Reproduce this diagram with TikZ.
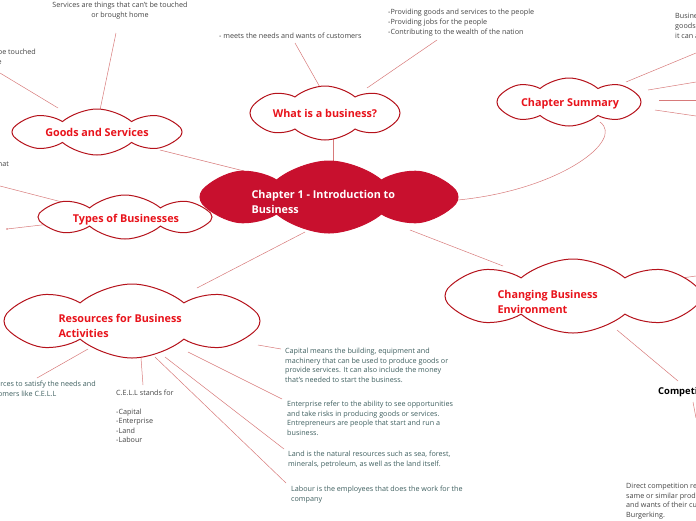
\documentclass[tikz,border=0pt]{standalone}
\usepackage{fontspec}
\setmainfont{Open Sans}
\usetikzlibrary{shapes.symbols}
\definecolor{crim}{HTML}{C8102E}
\definecolor{edge}{HTML}{B5121B}
\definecolor{ttl}{HTML}{E8131B}
\definecolor{lnk}{HTML}{D77A7A}
\definecolor{gtx}{HTML}{444444}
\definecolor{teal}{HTML}{3E5F5F}
\tikzset{
 cl/.style={cloud, cloud puffs=8, cloud puff arc=80, cloud ignores aspect, draw=edge, line width=1pt, fill=white, inner sep=0pt},
 ttlt/.style={font=\fontsize{10.8}{12}\selectfont\bfseries, text=ttl, align=left},
 lk/.style={draw=lnk, line width=0.5pt},
 tx/.style={font=\fontsize{7.2}{10}\selectfont, text=gtx, align=left, inner sep=0pt},
 tt/.style={tx, text=teal},
}
\begin{document}
\begin{tikzpicture}[x=1pt,y=-1pt]
\useasboundingbox (0,0) rectangle (696,520);
\clip (0,0) rectangle (696,520);
% links
\coordinate (cwhat) at (333,163);
\coordinate (wbot) at (333,135);
\draw[lk] (cwhat) -- (wbot);
\coordinate (cg1) at (252,173); \coordinate (g1) at (160,150); \draw[lk] (cg1) -- (g1);
\coordinate (ct1) at (225,207); \coordinate (t1) at (205,210); \draw[lk] (ct1) -- (t1);
\coordinate (cs1) at (458,200); \coordinate (s1) at (600,122);
\draw[lk] (cs1) .. controls (560,190) and (625,140) .. (s1);
\coordinate (cr1) at (305,232); \coordinate (r1) at (197,288); \draw[lk] (cr1) -- (r1);
\coordinate (cc1) at (410,230); \coordinate (c1) at (503,266); \draw[lk] (cc1) -- (c1);
% what is
\coordinate (w1) at (321,89); \coordinate (w1e) at (295,43); \draw[lk] (w1) -- (w1e);
\coordinate (w2) at (367,88); \coordinate (w2e) at (437,40); \draw[lk] (w2) -- (w2e);
% goods
\coordinate (ga) at (100,110); \coordinate (gae) at (116,33); \draw[lk] (ga) -- (gae);
\coordinate (gb) at (58,108); \coordinate (gbe) at (0,73); \draw[lk] (gb) -- (gbe);
% types
\coordinate (ta) at (62,202); \coordinate (tae) at (0,186); \draw[lk] (ta) -- (tae);
\coordinate (tb) at (50,224); \coordinate (tbe) at (7,229); \draw[lk] (tb) -- (tbe);
\fill[lnk] (tbe) circle (0.8);
% summary
\coordinate (sa) at (626,82); \coordinate (sae) at (696,53); \draw[lk] (sa) -- (sae);
\coordinate (sb) at (648,90); \coordinate (sbe) at (696,82); \draw[lk] (sb) -- (sbe);
\coordinate (sc) at (659,100); \coordinate (sce) at (696,100); \draw[lk] (sc) -- (sce);
\coordinate (sd) at (655,110); \coordinate (sde) at (696,116); \draw[lk] (sd) -- (sde);
% resources
\coordinate (ra) at (88,349); \coordinate (rae) at (37,378); \draw[lk] (ra) -- (rae);
\coordinate (rb) at (141,358); \coordinate (rbe) at (143,385); \draw[lk] (rb) -- (rbe);
\coordinate (rc) at (258,345); \coordinate (rce) at (281,349); \draw[lk] (rc) -- (rce);
\coordinate (rd) at (188,352); \coordinate (rde) at (282,399); \draw[lk] (rd) -- (rde);
\coordinate (re) at (165,357); \coordinate (ree) at (284,449); \draw[lk] (re) -- (ree);
\coordinate (rf) at (155,357); \coordinate (rfe) at (286,483); \draw[lk] (rf) -- (rfe);
% changing
\coordinate (ca) at (617,330); \coordinate (cae) at (678,381); \draw[lk] (ca) -- (cae);
\coordinate (cb) at (660,281); \coordinate (cbe) at (696,276); \draw[lk] (cb) -- (cbe);
\coordinate (cc) at (693,402); \coordinate (cce) at (696,418); \draw[lk] (cc) -- (cce);
% clouds
\node[cl, fill=crim, draw=crim, minimum width=258, minimum height=72] (core) at (329,197) {};
\node[font=\fontsize{10.8}{15}\selectfont\bfseries, text=white, align=left, anchor=west] (coret) at (248,202) {Chapter 1 - Introduction to\\Business};
\node[cl, minimum width=150, minimum height=54] (what) at (325,113) {};
\node[ttlt] at (what) {What is a business?};
\node[cl, minimum width=170, minimum height=46] (goods) at (97,132) {};
\node[ttlt] at (goods) {Goods and Services};
\node[cl, minimum width=174, minimum height=44] (types) at (125,217) {};
\node[ttlt] at (126,220) {Types of Businesses};
\node[cl, minimum width=144, minimum height=48] (sum) at (569,102) {};
\node[ttlt] at (570,104) {Chapter Summary};
\node[cl, minimum width=256, minimum height=74] (res) at (132,321) {};
\node[ttlt, font=\fontsize{10.8}{15}\selectfont\bfseries, anchor=west] at (55,326) {Resources for Business\\Activities};
\node[cl, minimum width=256, minimum height=74] (chg) at (573,296) {};
\node[ttlt, font=\fontsize{10.8}{15}\selectfont\bfseries, anchor=west] at (494,302) {Changing Business\\Environment};
% texts
\node[tx, align=center] (t1) at (120,11) {Services are things that can't be touched\\or brought home};
\node[tx, anchor=east, align=center] (t2) at (36,58) {Goods are things that can be touched\\or brought home};
\node[tx, anchor=west] (t3) at (219,36) {- meets the needs and wants of customers};
\node[tx, anchor=north west] (t4) at (388,9) {-Providing goods and services to the people\\-Providing jobs for the people\\-Contributing to the wealth of the nation};
\node[tx, anchor=north west] (t5) at (675,13) {Business\\goods and\\it can also};
\node[tx, anchor=east] (t6) at (9,165) {There are 3 types of business that};
\node[tt, anchor=north east, align=left] (t7) at (96,381) {Business use resources to satisfy the needs and\\wants of their customers like C.E.L.L};
\node[tx, anchor=north west, font=\fontsize{7.2}{9.4}\selectfont] (t8) at (116,390) {C.E.L.L stands for\\[9.4pt]-Capital\\-Enterprise\\-Land\\-Labour};
\node[tt, anchor=north west, font=\fontsize{7.2}{9.6}\selectfont] (t9) at (285,348) {Capital means the building, equipment and\\machinery that can be used to produce goods or\\provide services. It can also include the money\\that's needed to start the business.};
\node[tt, anchor=north west, font=\fontsize{7.2}{9.6}\selectfont] (t10) at (287,401) {Enterprise refer to the ability to see opportunities\\and take risks in producing goods or services.\\Entrepreneurs are people that start and run a\\business.};
\node[tt, anchor=north west, font=\fontsize{7.2}{9.6}\selectfont] (t11) at (288,451) {Land is the natural resources such as sea, forest,\\minerals, petroleum, as well as the land itself.};
\node[tt, anchor=north west, font=\fontsize{7.2}{9.6}\selectfont] (t12) at (291,486) {Labour is the employees that does the work for the\\company};
\node[font=\fontsize{9.4}{10}\selectfont\bfseries, anchor=west, inner sep=0pt] (comp) at (658,392) {Competition};
\node[tx, anchor=north west, font=\fontsize{7.2}{9.6}\selectfont] (t13) at (626,483) {Direct competition refers to businesses that sell the\\same or similar products to satisfy the needs\\and wants of their customers like McDonald and\\Burgerking.};
\end{tikzpicture}
\end{document}
